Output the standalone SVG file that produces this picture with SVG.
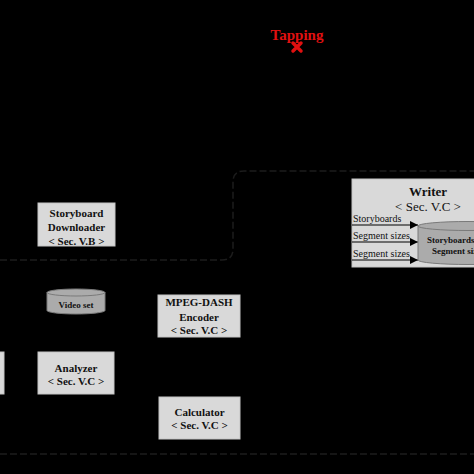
<svg xmlns="http://www.w3.org/2000/svg" width="474" height="474" viewBox="0 0 474 474">
<defs>
<style>
.box{fill:#d9d9d9;stroke:#c4c4c4;stroke-width:1}
.t{font-family:"Liberation Serif","Times New Roman",serif;font-weight:bold;font-size:11px;fill:#111;text-anchor:middle}
.r{font-family:"Liberation Serif","Times New Roman",serif;font-size:10px;fill:#111}
.cyl{fill:#ababab;stroke:#7a7a7a;stroke-width:1}
.dash{fill:none;stroke:#1c1c1c;stroke-width:1.5;stroke-dasharray:7 3}
.arr{stroke:#000;stroke-width:1.2;fill:none}
</style>
<marker id="ah" viewBox="0 0 8 8" refX="8" refY="4" markerWidth="8" markerHeight="8" markerUnits="userSpaceOnUse" orient="auto">
<path d="M0,0 L8,4 L0,8 z" fill="#000"/>
</marker>
</defs>
<rect width="474" height="474" fill="#000"/>
<g id="connectors">
<path class="dash" d="M0 260 H222 Q233 260 233 249 V182 Q233 171 244 171 H474"/>
<path class="dash" d="M0 454 H474"/>
</g>
<g id="tapping">
<text x="297" y="40" style="font-family:'Liberation Serif',serif;font-weight:bold;font-size:15px;fill:#e01010;text-anchor:middle">Tapping</text>
<path d="M293 43 L301 51 M301 43 L293 51" stroke="#e01010" stroke-width="3.5" stroke-linecap="round"/>
</g>
<g id="storyboard-downloader">
<rect class="box" x="38" y="203" width="77" height="43"/>
<text class="t" x="76.5" y="217">Storyboard</text>
<text class="t" x="76.5" y="231">Downloader</text>
<text class="t" x="76.5" y="245">&lt; Sec. V.B &gt;</text>
</g>
<g id="video-set">
<path class="cyl" d="M47 292.5 V310.5 A29 3.5 0 0 0 105 310.5 V292.5"/>
<ellipse class="cyl" cx="76" cy="292.5" rx="29" ry="3.5"/>
<text class="t" x="76" y="307.5" style="font-size:9px">Video set</text>
</g>
<g id="mpeg-dash-encoder">
<rect class="box" x="158" y="295" width="82" height="42"/>
<text class="t" x="199" y="306">MPEG-DASH</text>
<text class="t" x="199" y="320.5">Encoder</text>
<text class="t" x="199" y="334">&lt; Sec. V.C &gt;</text>
</g>
<g id="left-box">
<rect class="box" x="-10" y="352" width="14" height="42"/>
</g>
<g id="analyzer">
<rect class="box" x="38" y="352" width="76" height="42"/>
<text class="t" x="76" y="371.5">Analyzer</text>
<text class="t" x="76" y="385">&lt; Sec. V.C &gt;</text>
</g>
<g id="calculator">
<rect class="box" x="159" y="397" width="81" height="42"/>
<text class="t" x="199.5" y="415.5">Calculator</text>
<text class="t" x="199.5" y="429">&lt; Sec. V.C &gt;</text>
</g>
<g id="writer">
<rect class="box" x="352" y="179" width="140" height="88"/>
<text class="t" x="428" y="195.5" style="font-size:13px">Writer</text>
<text class="t" x="428" y="210.5" style="font-size:13px;font-weight:normal">&lt; Sec. V.C &gt;</text>
<text class="r" x="353" y="222">Storyboards</text>
<text class="r" x="353" y="239">Segment sizes</text>
<text class="r" x="353" y="257">Segment sizes</text>
<line class="arr" x1="352" y1="225" x2="418" y2="225" marker-end="url(#ah)"/>
<line class="arr" x1="352" y1="242" x2="418" y2="242" marker-end="url(#ah)"/>
<line class="arr" x1="352" y1="260" x2="418" y2="260" marker-end="url(#ah)"/>
<g id="storage">
<path class="cyl" d="M418 226 V260 A50 4.5 0 0 0 518 260 V226"/>
<ellipse class="cyl" cx="468" cy="226" rx="50" ry="4.5"/>
<text class="t" x="427" y="243" style="font-size:9px;text-anchor:start">Storyboards</text>
<text class="t" x="432" y="254" style="font-size:9px;text-anchor:start">Segment sizes</text>
</g>
</g>
</svg>
